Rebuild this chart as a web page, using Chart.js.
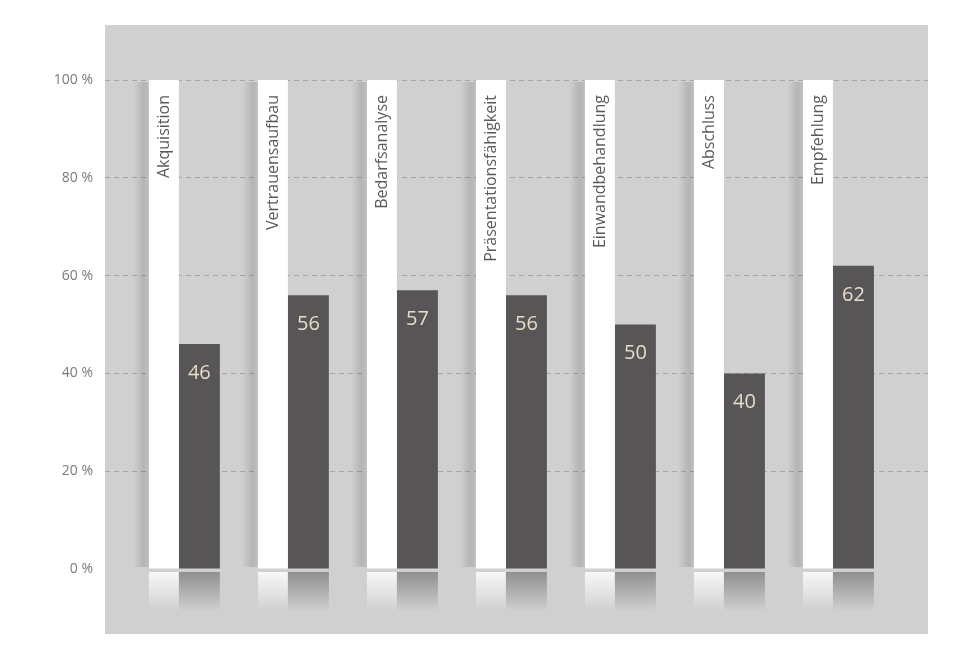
<!DOCTYPE html>
<html lang="de">
<head>
  <meta charset="UTF-8">
  <title>Vertriebsphasen</title>
  <script src="https://cdn.jsdelivr.net/npm/chart.js"></script>
  <style>
    body {
      margin: 0;
      background: #ffffff;
    }
    canvas {
      display: block;
    }
  </style>
</head>
<body>
  <canvas id="chartPhasen" width="980" height="656"></canvas>

  <script>
    const phasen = ['Akquisition', 'Vertrauensaufbau', 'Bedarfsanalyse', 'Präsentationsfähigkeit', 'Einwandbehandlung', 'Abschluss', 'Empfehlung'];
    const werte = [46, 56, 57, 56, 50, 40, 62];
    const maximum = [100, 100, 100, 100, 100, 100, 100];
    const yTicks = [0, 20, 40, 60, 80, 100];

    const panelGrau = '#d0d0d0';
    const dunkel = '#575555';

    // Hintergrund, Schatten, Spiegelung und Beschriftungen
    const deko = {
      id: 'deko',
      beforeDraw(chart) {
        const { ctx, chartArea: a } = chart;
        ctx.save();
        ctx.fillStyle = panelGrau;
        ctx.fillRect(a.left, a.top, a.right - a.left, a.bottom - a.top);
        ctx.restore();
      },
      beforeDatasetsDraw(chart) {
        const ctx = chart.ctx;
        const base = chart.scales.y.getPixelForValue(0);
        ctx.save();
        chart.getDatasetMeta(0).data.forEach(el => {
          const left = el.x - el.width / 2;
          const g = ctx.createLinearGradient(left - 16, 0, left, 0);
          g.addColorStop(0, 'rgba(0,0,0,0)');
          g.addColorStop(0.65, 'rgba(0,0,0,0.13)');
          g.addColorStop(1, 'rgba(0,0,0,0.09)');
          ctx.fillStyle = g;
          ctx.fillRect(left - 16, el.y + 2, 16, base - el.y - 4);
        });
        ctx.restore();
      },
      afterDatasetsDraw(chart) {
        const ctx = chart.ctx;
        const base = chart.scales.y.getPixelForValue(0);
        ctx.save();

        // Spiegelung unter der Nulllinie
        [0, 1].forEach(d => {
          chart.getDatasetMeta(d).data.forEach(el => {
            const left = el.x - el.width / 2;
            const g = ctx.createLinearGradient(0, base + 3, 0, base + 42);
            if (d === 0) {
              g.addColorStop(0, 'rgba(255,255,255,0.85)');
              g.addColorStop(1, 'rgba(255,255,255,0)');
            } else {
              g.addColorStop(0, 'rgba(100,100,100,0.6)');
              g.addColorStop(1, 'rgba(100,100,100,0)');
            }
            ctx.fillStyle = g;
            ctx.fillRect(left, base + 3, el.width, 39);
          });
        });

        // Phasennamen in den weißen Balken
        ctx.font = '16px "Open Sans"';
        ctx.fillStyle = '#5a5a5a';
        ctx.textAlign = 'right';
        ctx.textBaseline = 'middle';
        chart.getDatasetMeta(0).data.forEach((el, i) => {
          ctx.save();
          ctx.translate(el.x + 1, el.y + 15);
          ctx.rotate(-Math.PI / 2);
          ctx.fillText(phasen[i], 0, 0);
          ctx.restore();
        });

        // Werte in den dunklen Balken
        ctx.font = '20px "Open Sans"';
        ctx.fillStyle = '#e6dcc9';
        ctx.textAlign = 'center';
        chart.getDatasetMeta(1).data.forEach((el, i) => {
          ctx.fillText(String(werte[i]), el.x, el.y + 29);
        });
        ctx.restore();
      }
    };

    const ctx = document.getElementById('chartPhasen').getContext('2d');

    const chart = new Chart(ctx, {
      type: 'bar',
      data: {
        datasets: [{
          label: 'Maximum',
          data: maximum.map((v, i) => ({ x: i, y: v })),
          backgroundColor: '#ffffff',
          barPercentage: 0.845,
          categoryPercentage: 0.651
        }, {
          label: 'Wert',
          data: werte.map((v, i) => ({ x: i, y: v })),
          backgroundColor: dunkel,
          barPercentage: 1.155,
          categoryPercentage: 0.651
        }]
      },
      options: {
        responsive: false,
        animation: false,
        layout: {
          padding: { left: 0, right: 52, top: 25, bottom: 22 }
        },
        plugins: {
          legend: { display: false },
          tooltip: { enabled: false }
        },
        scales: {
          x: {
            type: 'linear',
            display: false,
            offset: false,
            min: -0.703,
            max: 6.847,
            afterBuildTicks: s => { s.ticks = phasen.map((_, i) => ({ value: i })); },
            grid: { display: false, offset: false }
          },
          y: {
            min: -13.3,
            max: 111.25,
            stacked: false,
            afterFit: s => { s.width = 105; },
            afterBuildTicks: s => { s.ticks = yTicks.map(v => ({ value: v })); },
            grid: {
              drawTicks: false,
              color: c => (c.tick && c.tick.value === 0) ? 'rgba(0,0,0,0)' : '#a6a6a6',
              lineWidth: 1
            },
            border: { display: false, dash: [5, 4] },
            ticks: {
              padding: 12,
              color: '#7a7a7a',
              font: { family: 'Open Sans', size: 14 },
              callback: v => v + ' %'
            }
          }
        }
      },
      plugins: [deko]
    });
  </script>
</body>
</html>
